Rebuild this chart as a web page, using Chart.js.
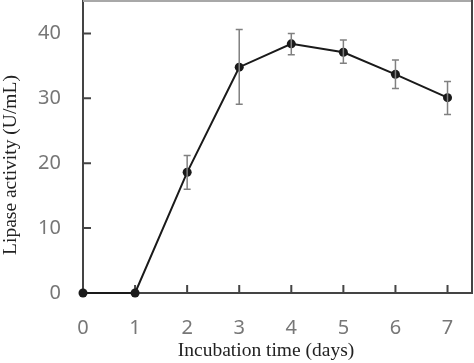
<!DOCTYPE html>
<html><head><meta charset="utf-8">
<script src="https://cdn.jsdelivr.net/npm/chart.js@4/dist/chart.umd.min.js"></script>
<style>html,body{margin:0;padding:0;background:#fff}#wrap{width:474px;height:363px}</style>
</head><body><div id="wrap"><canvas id="c" width="474" height="363"></canvas></div>
<script>
const days = [0, 1, 2, 3, 4, 5, 6, 7];
const activity = [0, 0, 18.6, 34.8, 38.4, 37.1, 33.7, 30.1];
const errLow = [0, 0, 16.0, 29.1, 36.7, 35.4, 31.5, 27.5];
const errHigh = [0, 0, 21.2, 40.6, 40.0, 39.0, 35.9, 32.6];
const xTicks = [0, 1, 2, 3, 4, 5, 6, 7];
const yTicks = [0, 10, 20, 30, 40];
const xTitle = 'Incubation time (days)';
const yTitle = 'Lipase activity (U/mL)';

const errorBars = {
  id: 'errorBars',
  afterDatasetsDraw(chart) {
    const ctx = chart.ctx, xs = chart.scales.x, ys = chart.scales.y;
    ctx.save();
    ctx.strokeStyle = '#808080';
    ctx.lineWidth = 1.5;
    days.forEach((d, i) => {
      if (errHigh[i] === errLow[i]) return;
      const x = xs.getPixelForValue(d);
      const y1 = ys.getPixelForValue(errLow[i]);
      const y2 = ys.getPixelForValue(errHigh[i]);
      ctx.beginPath();
      ctx.moveTo(x, y1); ctx.lineTo(x, y2);
      ctx.moveTo(x - 3.5, y1); ctx.lineTo(x + 3.5, y1);
      ctx.moveTo(x - 3.5, y2); ctx.lineTo(x + 3.5, y2);
      ctx.stroke();
    });
    ctx.restore();
  }
};

const frame = {
  id: 'frame',
  beforeDatasetsDraw(chart) {
    const ctx = chart.ctx, a = chart.chartArea, xs = chart.scales.x, ys = chart.scales.y;
    ctx.save();
    ctx.strokeStyle = '#444';
    ctx.lineWidth = 2;
    ctx.beginPath();
    xs.ticks.forEach(t => {
      const x = xs.getPixelForValue(t.value);
      ctx.moveTo(x, a.bottom); ctx.lineTo(x, a.bottom - 8);
    });
    ys.ticks.forEach(t => {
      const y = ys.getPixelForValue(t.value);
      ctx.moveTo(a.left, y); ctx.lineTo(a.left + 8, y);
    });
    ctx.stroke();
    ctx.beginPath();
    ctx.moveTo(a.right, a.top - 1); ctx.lineTo(a.right, a.bottom);
    ctx.stroke();
    ctx.strokeStyle = '#a8a8a8';
    ctx.beginPath();
    ctx.moveTo(a.left, a.top); ctx.lineTo(a.right - 1, a.top);
    ctx.stroke();
    // axis titles
    ctx.fillStyle = '#222';
    ctx.font = '19.5px "Liberation Serif"';
    ctx.textAlign = 'center';
    ctx.textBaseline = 'middle';
    ctx.fillText(xTitle, 266, 351);
    ctx.translate(11, 165);
    ctx.rotate(-Math.PI / 2);
    ctx.fillText(yTitle, 0, 0);
    ctx.restore();
  }
};

new Chart(document.getElementById('c'), {
  type: 'line',
  data: {
    datasets: [{
      data: days.map((d, i) => ({ x: d, y: activity[i] })),
      borderColor: '#1a1a1a',
      backgroundColor: '#1a1a1a',
      borderWidth: 2,
      pointRadius: 4.5,
      pointBorderWidth: 0,
      tension: 0,
      clip: false
    }]
  },
  options: {
    responsive: false,
    animation: false,
    layout: { autoPadding: false, padding: { top: 1, right: 2, left: 0, bottom: 0 } },
    plugins: { legend: { display: false }, tooltip: { enabled: false } },
    scales: {
      x: {
        type: 'linear', min: 0, max: 7.47,
        afterBuildTicks: s => { s.ticks = xTicks.map(v => ({ value: v })); },
        afterFit: s => { s.height = 70; s.paddingLeft = 0; s.paddingRight = 0; },
        grid: { drawOnChartArea: false, drawTicks: false },
        border: { color: '#444', width: 2 },
        ticks: { color: '#777', padding: 23, font: { family: 'Noto Sans', size: 20 } },
        title: { display: false }
      },
      y: {
        min: 0, max: 45,
        afterBuildTicks: s => { s.ticks = yTicks.map(v => ({ value: v })); },
        afterFit: s => { s.width = 83; s.paddingTop = 0; s.paddingBottom = 0; },
        grid: { drawOnChartArea: false, drawTicks: false },
        border: { color: '#444', width: 2 },
        ticks: { color: '#777', padding: 22, font: { family: 'Noto Sans', size: 20 } },
        title: { display: false }
      }
    }
  },
  plugins: [frame, errorBars]
});
</script></body></html>
